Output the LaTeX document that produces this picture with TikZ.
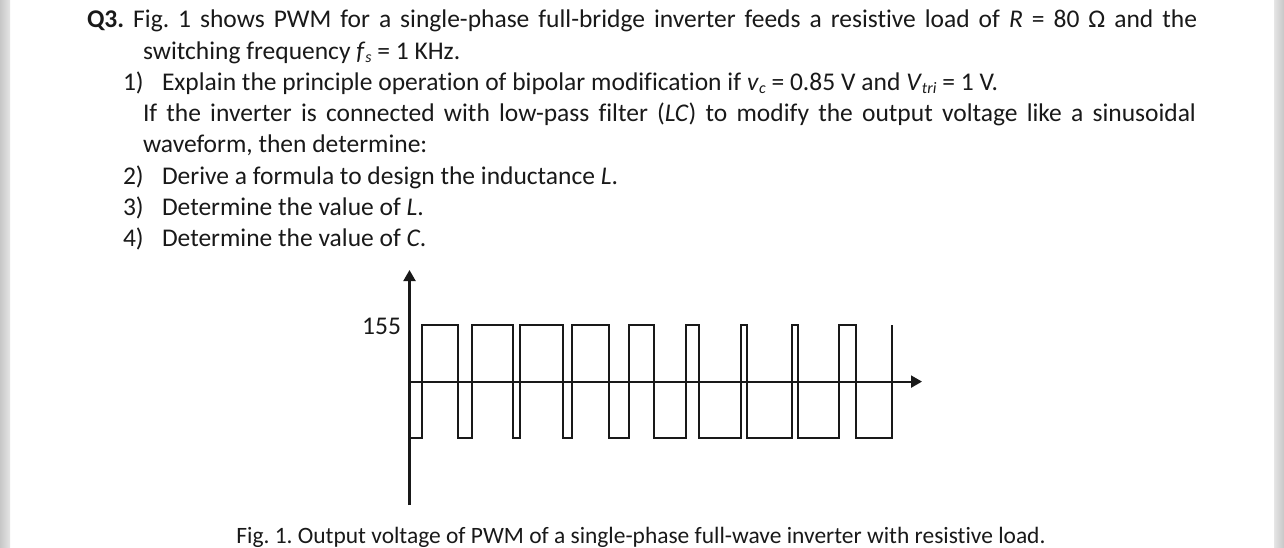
\documentclass[tikz,border=0pt]{standalone}
\usepackage{fontspec}
\setmainfont[RawFeature={-liga}]{Carlito}
\usetikzlibrary{arrows.meta}
\newcommand{\subi}[1]{\raisebox{-0.14em}{\fontsize{16}{16}\selectfont\textit{#1}}}
\definecolor{ink}{gray}{0.1}
\tikzset{
  x=1pt,y=-1pt,
  txt/.style={anchor=base west,inner sep=0pt,outer sep=0pt,text=ink,font=\fontsize{25.5}{30}\selectfont\frenchspacing},
  axisline/.style={line width=2.05pt,ink,-{Triangle[length=11pt,width=12pt]}},
  wave/.style={line width=2.1pt,ink,line join=miter}
}
\begin{document}
\begin{tikzpicture}
\useasboundingbox (0,0) rectangle (1284,547);
\fill[white] (0,0) rectangle (1284,547);
\shade[left color=black!22,right color=black!10] (0,0) rectangle (10,547);
\shade[left color=black!10,right color=black!22] (1274,0) rectangle (1284,547);

\node[txt] (q) at (87,27) {\makebox[1110pt][s]{\textbf{Q3.} Fig. 1 shows PWM for a single-phase full-bridge inverter feeds a resistive load of \textit{R} = 80 Ω and the}};
\node[txt] (l2) at (143,59) {switching frequency \textit{f}\subi{s} = 1 KHz.};
\node[txt] (l3a) at (123,90) {1)};
\node[txt] (l3) at (162,90) {\makebox[836pt][s]{Explain the principle operation of bipolar modification if \textit{v}\subi{c} = 0.85 V and \textit{V}\subi{tri} = 1 V.}};
\node[txt] (l4) at (143,121) {\makebox[1053pt][s]{If the inverter is connected with low-pass filter (\textit{LC}) to modify the output voltage like a sinusoidal}};
\node[txt] (l5) at (143,152) {waveform, then determine:};
\node[txt] (l6a) at (123,184) {2)};
\node[txt] (l6) at (162,184) {Derive a formula to design the inductance \textit{L}.};
\node[txt] (l7a) at (123,215) {3)};
\node[txt] (l7) at (162,215) {Determine the value of \textit{L}.};
\node[txt] (l8a) at (123,246) {4)};
\node[txt] (l8) at (162,246) {Determine the value of \textit{C}.};

\coordinate (ybot) at (409.5,505);
\coordinate (ytop) at (409.5,270);
\coordinate (xl) at (409.5,381.6);
\coordinate (xr) at (922,381.6);
\draw[axisline] (ybot) -- (ytop);
\draw[axisline] (xl) -- (xr);
\draw[wave] (409.5,438.3) -- (421.7,438.3) -- (421.7,325)
 -- (458,325) -- (458,438.3) -- (472,438.3) -- (472,325)
 -- (513,325) -- (513,438.3) -- (520,438.3) -- (520,325)
 -- (562.7,325) -- (562.7,438.3) -- (571.7,438.3) -- (571.7,325)
 -- (608.7,325) -- (608.7,438.3) -- (628.7,438.3) -- (628.7,325)
 -- (654,325) -- (654,438.3) -- (686,438.3) -- (686,325)
 -- (699.3,325) -- (699.3,438.3) -- (741,438.3) -- (741,325)
 -- (747.3,325) -- (747.3,438.3) -- (791.7,438.3) -- (791.7,325)
 -- (798.3,325) -- (798.3,438.3) -- (839,438.3) -- (839,325)
 -- (855.7,325) -- (855.7,438.3) -- (891.7,438.3) -- (891.7,325);
\node[txt,anchor=base east] (v) at (401,334) {155};
\node[txt,anchor=base,font=\fontsize{23.45}{28}\selectfont\frenchspacing] (cap) at (641,543) {Fig. 1. Output voltage of PWM of a single-phase full-wave inverter with resistive load.};
\end{tikzpicture}
\end{document}
